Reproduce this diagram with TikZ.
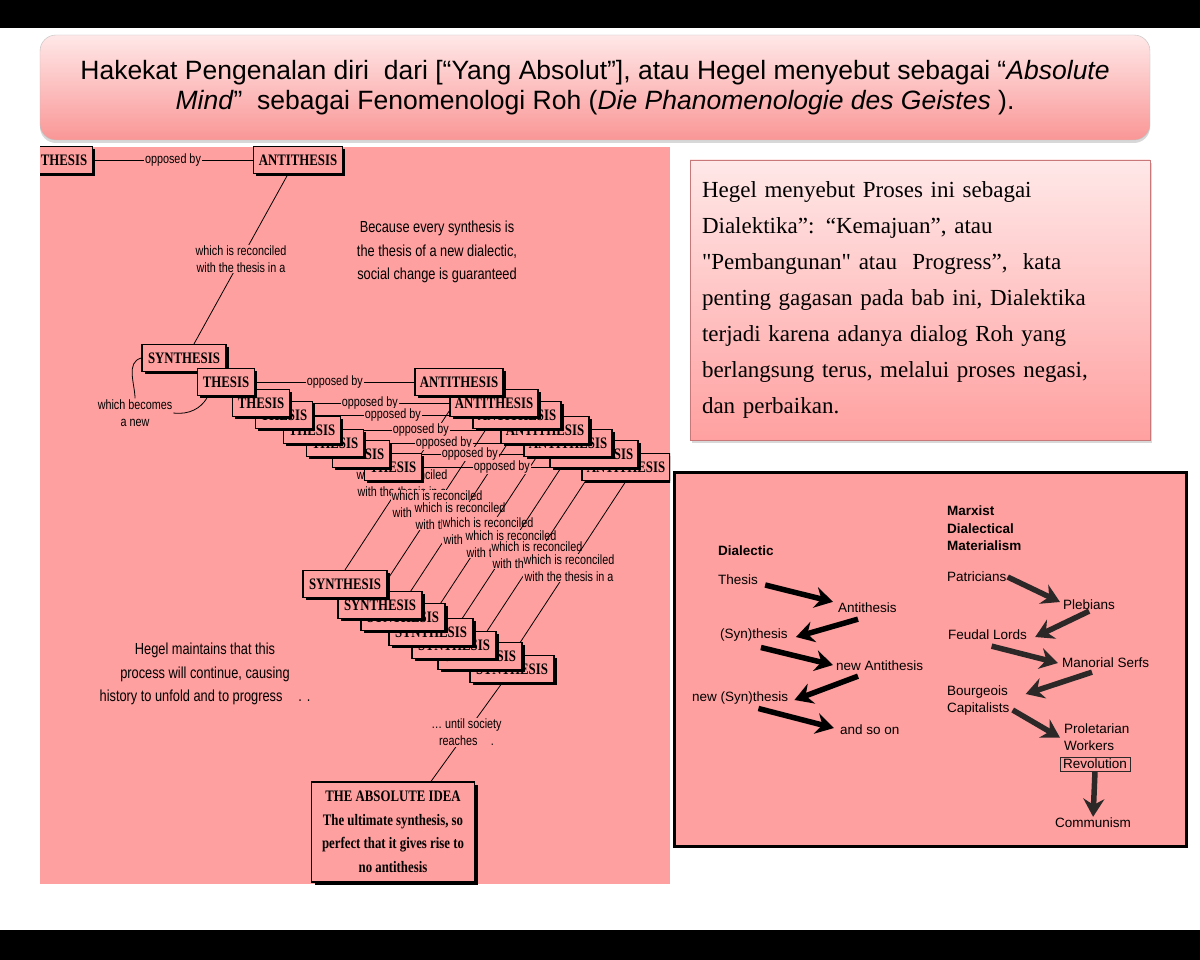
\documentclass[tikz,border=0pt]{standalone}
\usepackage{fontspec}
\setmainfont{Liberation Serif}
\newfontfamily\sansfont{Liberation Sans}
\newfontfamily\narrowfont[FakeStretch=0.8]{Liberation Sans}
\newfontfamily\boxfont[FakeStretch=0.8]{Liberation Serif}
\newfontfamily\remarkfont[Ligatures=TeXOff]{Liberation Serif}
\usetikzlibrary{arrows.meta, calc, positioning, shadows}

\definecolor{pnk}{RGB}{255,160,160}
\definecolor{pnklight}{RGB}{255,232,232}
\definecolor{pnkdeep}{RGB}{250,150,150}
\definecolor{arrowgray}{RGB}{45,40,40}

\pgfdeclarelayer{bg}
\pgfsetlayers{bg,main}

\tikzset{
  stackbox/.style={draw, line width=1.2pt, fill=pnk, minimum height=27pt, inner sep=2pt,
    font=\boxfont\bfseries\fontsize{16}{16}\selectfont,
    drop shadow={shadow xshift=2.5pt, shadow yshift=-2.5pt, fill=black, opacity=1}},
  link/.style={line width=0.8pt},
  lab/.style={fill=pnk, inner sep=1pt, align=center, font=\narrowfont\fontsize{13.5}{17}\selectfont},
  note/.style={align=center, font=\narrowfont\fontsize{16}{23.5}\selectfont},
  dlab/.style={anchor=west, inner sep=1pt, font=\sansfont\fontsize{13.5}{17}\selectfont},
  fat/.style={line width=5.5pt, -{Stealth[length=18pt, width=21pt, inset=6pt]}},
}

\begin{document}
\begin{tikzpicture}[x=1pt, y=-1pt]
    \useasboundingbox (0,0) rectangle (1200,960);

    % Page and left panel, behind everything
    \begin{pgfonlayer}{bg}
        \fill[white] (0,0) rectangle (1200,960);
        \fill[pnk] (40,147) rectangle (670,884);
    \end{pgfonlayer}

    % Black bars
    \fill[black] (0,0) rectangle (1200,28);
    \fill[black] (0,930) rectangle (1200,960);

    % Title
    \node[rounded corners=16pt, draw=gray!50, top color=pnklight, bottom color=pnkdeep,
          minimum width=1110pt, minimum height=105pt, align=center,
          font=\sansfont\fontsize{26.5}{30}\selectfont,
          drop shadow={opacity=0.3, shadow xshift=0pt, shadow yshift=-3pt}] (title) at (595,87.5)
        {Hakekat Pengenalan diri~ dari [“Yang Absolut”], atau Hegel menyebut sebagai “\textit{Absolute}\\
         \textit{Mind}”~ sebagai Fenomenologi Roh (\textit{Die Phanomenologie des Geistes} ).};

    \begin{scope}
        \clip (40,147) rectangle (670,884);

        % First dialectic
        \node[stackbox, minimum width=57pt] (th0) at (64,160) {THESIS};
        \node[stackbox, minimum width=89pt] (an0) at (298,160) {ANTITHESIS};
        \node[stackbox, minimum width=84pt] (sy0) at (184,358) {SYNTHESIS};
        \node[lab, fill=none] (becomes) at (135,413) {which becomes\\a new};

        \node[note] (because) at (437,252) {Because every synthesis is\\the thesis of a new dialectic,\\social change is guaranteed};

        % Stacked dialectics, back to front
        \foreach \i/\ox/\oy in {7/167/85, 6/135/72, 5/109/61, 4/86/48, 3/58/33, 2/35/21, 1/0/0}{
            \node[stackbox, minimum width=88pt] (an\i) at (459+\ox,382+\oy) {ANTITHESIS};
            \node[stackbox, minimum width=57pt] (th\i) at (226+\ox,382+\oy) {THESIS};
            \node[stackbox, minimum width=84pt] (sy\i) at (345+\ox,584+\oy) {SYNTHESIS};
        }

        \node[note] (maintains) at (205,674) {Hegel maintains that this\\process will continue, causing\\history to unfold and to progress\quad. .};

        \node[draw, line width=1.2pt, fill=pnk, minimum width=163pt, minimum height=100pt, align=center,
              inner sep=2pt, font=\boxfont\bfseries\fontsize{16}{23.5}\selectfont,
              drop shadow={shadow xshift=3pt, shadow yshift=-3pt, fill=black, opacity=1}] (abs) at (393,832)
            {THE ABSOLUTE IDEA\\The ultimate synthesis, so\\perfect that it gives rise to\\no antithesis};
    \end{scope}

    % Connectors behind the boxes
    \begin{pgfonlayer}{bg}
        \draw[link] (th0.east) -- node[lab] {opposed by} (an0.west);
        \draw[link] ($(an0.south)+(-10,0)$) -- node[lab] {which is reconciled\\with the thesis in a} ($(sy0.north)+(10,0)$);
        \draw[link] (sy0.west) .. controls +(-16,4) and +(0,-14) .. (becomes.north);
        \draw[link] (becomes.east) .. controls +(16,2) and +(-6,10) .. ($(th1.south west)+(10,2)$);
        \foreach \i in {1,...,7}{
            \draw[link] (th\i.east) -- node[lab] {opposed by} (an\i.west);
            \draw[link] (an\i.south) -- node[lab] {which is reconciled\\with the thesis in a} (sy\i.north);
        }
        \draw[link] ($(sy7.south)+(-10,0)$) -- node[lab] {\ldots\ until society\\reaches\quad .} ($(abs.north)+(38,0)$);
    \end{pgfonlayer}

    % Text box
    \node[draw=pnkdeep!80!black, top color=pnklight, bottom color=pnk, minimum width=460pt, minimum height=280pt,
          text width=436pt, align=left, font=\remarkfont\fontsize{23}{36}\selectfont,
          drop shadow={opacity=0.3, shadow xshift=2pt, shadow yshift=-3pt}] (remark) at (920,300)
        {Hegel menyebut Proses ini sebagai\\
         Dialektika”: “Kemajuan”, atau\\
         "Pembangunan" atau~ Progress”,~ kata\\
         penting gagasan pada bab ini, Dialektika\\
         terjadi karena adanya dialog Roh yang\\
         berlangsung terus, melalui proses negasi,\\
         dan perbaikan.};

    % Dialectic frame
    \draw[line width=3pt, fill=pnk] (674,472) rectangle (1186,846);

    % Dialectic column
    \node[dlab, font=\sansfont\bfseries\fontsize{13.5}{17}\selectfont] (dhead) at (717,551) {Dialectic};
    \node[dlab] (dth) at (717,580) {Thesis};
    \node[dlab] (dan) at (837,608) {Antithesis};
    \node[dlab] (dsy) at (719,635) {(Syn)thesis};
    \node[dlab] (dnan) at (835,666) {new Antithesis};
    \node[dlab] (dnsy) at (691,698) {new (Syn)thesis};
    \node[dlab] (dso) at (839,730) {and so on};

    \draw[fat, black] ($(dth.east)+(6,5)$) -- ($(dan.north west)+(-4,0)$);
    \draw[fat, black] ($(dan.south west)+(21,5)$) -- ($(dsy.east)+(7,2)$);
    \draw[fat, black] ($(dsy.south east)+(-28,5)$) -- ($(dnan.west)+(-2,-1)$);
    \draw[fat, black] ($(dnan.south west)+(23,4)$) -- ($(dnsy.east)+(5,2)$);
    \draw[fat, black] ($(dnsy.south east)+(-31,3)$) -- ($(dso.west)+(-5,-2)$);

    % Marxist column
    \node[dlab, font=\sansfont\bfseries\fontsize{13.5}{17.5}\selectfont, align=left, anchor=north west] (mhead) at (946,505) {Marxist\\Dialectical\\Materialism};
    \node[dlab] (mpat) at (946,577) {Patricians};
    \node[dlab] (mpleb) at (1062,605) {Plebians};
    \node[dlab] (mfeud) at (947,635) {Feudal Lords};
    \node[dlab] (mman) at (1061,663) {Manorial Serfs};
    \node[dlab, align=left, anchor=north west] (mbour) at (946,685) {Bourgeois\\Capitalists};
    \node[dlab, align=left, anchor=north west] (mprol) at (1063,723) {Proletarian\\Workers};
    \node[dlab, draw=arrowgray, line width=0.7pt, anchor=center, inner xsep=3pt, inner ysep=2pt] (mrev) at (1095,764) {Revolution};
    \node[dlab] (mcom) at (1054,823) {Communism};

    \draw[fat, arrowgray] (mpat.east) -- ($(mpleb.west)+(-2,-3)$);
    \draw[fat, arrowgray] (mpleb.south) -- ($(mfeud.east)+(7,2)$);
    \draw[fat, arrowgray] ($(mfeud.south)+(4,5)$) -- ($(mman.west)+(-3,0)$);
    \draw[fat, arrowgray] ($(mman.south west)+(31,3)$) -- ($(mbour.north east)+(15,9)$);
    \draw[fat, arrowgray] ($(mbour.east)+(2,9)$) -- ($(mprol.west)+(-3,0)$);
    \draw[fat, arrowgray] (mrev.south) -- (mcom.north);

\end{tikzpicture}
\end{document}
